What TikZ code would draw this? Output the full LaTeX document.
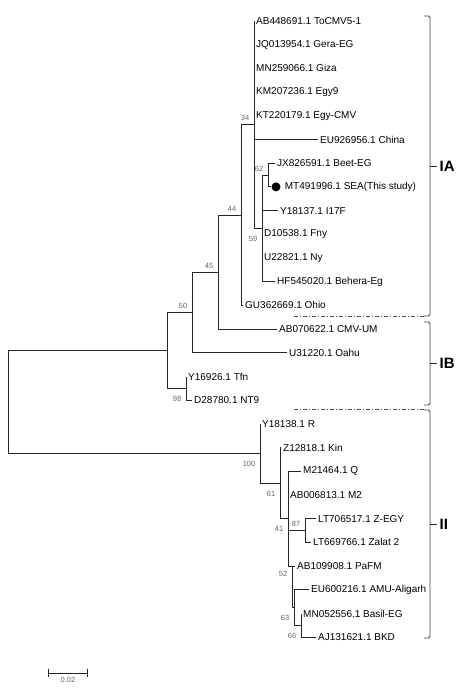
\documentclass[tikz,border=0pt]{standalone}
\usepackage{fontspec}
\setmainfont{Liberation Sans}
\usepackage{tikz}
\usetikzlibrary{positioning}
\tikzset{
  br/.style={draw=black!85, line width=0.9pt},
  leaf/.style={anchor=west, inner sep=2pt, font=\fontsize{10}{12}\selectfont},
  boot/.style={inner sep=1pt, text=black!60, font=\fontsize{7.5}{9}\selectfont, xshift=-3.5pt},
  bootup/.style={boot, anchor=south east, yshift=2.5pt},
  bootdn/.style={boot, anchor=north east, yshift=-6.5pt},
  clade/.style={anchor=west, inner sep=2.5pt, font=\fontsize{15}{17}\selectfont\bfseries},
  brk/.style={draw=black!75, line width=0.9pt, rounded corners=1.5pt},
  sepline/.style={draw=black!70, line width=0.8pt, dash pattern=on 4pt off 2pt on 1pt off 2pt},
  dotv/.style={circle, fill, inner sep=0pt, minimum size=9pt},
  every picture/.style={line cap=butt, line join=miter}
}

\begin{document}
\begin{tikzpicture}[x=1pt,y=-1pt]
  \useasboundingbox (0,0) rectangle (474,695);
  % internal nodes
  \coordinate (root) at (8,402.0);
  \coordinate (nA) at (167,350.4);
  \coordinate (n50) at (192,312.4);
  \coordinate (n45) at (218,272.1);
  \coordinate (n44) at (241,215.1);
  \coordinate (n34) at (254,124.7);
  \coordinate (n59) at (262,228.4);
  \coordinate (n62) at (268,175.1);
  \coordinate (n98) at (186,388.4);
  \coordinate (n100) at (260,453.5);
  \coordinate (n61) at (280,483.2);
  \coordinate (n41) at (288,518.7);
  \coordinate (n87) at (305,530.6);
  \coordinate (n52) at (292,566.1);
  \coordinate (n63) at (294,607.6);
  \coordinate (n66) at (301,625.4);

  % taxa
  \node[leaf] (tocmv) at (254,21.0) {AB448691.1 ToCMV5-1};
  \node[leaf] (gera) at (254,44.7) {JQ013954.1 Gera-EG};
  \node[leaf] (giza) at (254,68.4) {MN259066.1 Giza};
  \node[leaf] (egynine) at (254,92.1) {KM207236.1 Egy9};
  \node[leaf] (egycmv) at (254,115.8) {KT220179.1 Egy-CMV};
  \node[leaf] (china) at (318,139.5) {EU926956.1 China};
  \node[leaf] (beet) at (275,163.2) {JX826591.1 Beet-EG};
  \node[dotv] (seadot) at (276,186.9) {};
  \node[leaf, right=2pt of seadot] (sea) {MT491996.1 SEA(This study)};
  \node[leaf] (ifs) at (278,210.6) {Y18137.1 I17F};
  \node[leaf] (fny) at (262,234.3) {D10538.1 Fny};
  \node[leaf] (ny) at (262,258.0) {U22821.1 Ny};
  \node[leaf] (behera) at (275,281.7) {HF545020.1 Behera-Eg};
  \node[leaf] (ohio) at (243,305.4) {GU362669.1 Ohio};
  \node[leaf] (cmvum) at (277,329.1) {AB070622.1 CMV-UM};
  \node[leaf] (oahu) at (287,352.8) {U31220.1 Oahu};
  \node[leaf] (tfn) at (186,376.5) {Y16926.1 Tfn};
  \node[leaf] (nt9) at (192,400.2) {D28780.1 NT9};
  \node[leaf] (r) at (260,423.9) {Y18138.1 R};
  \node[leaf] (kin) at (281,447.6) {Z12818.1 Kin};
  \node[leaf] (q) at (301,471.3) {M21464.1 Q};
  \node[leaf] (m2) at (288,495.0) {AB006813.1 M2};
  \node[leaf] (zegy) at (316,518.7) {LT706517.1 Z-EGY};
  \node[leaf] (zalat) at (311,542.4) {LT669766.1 Zalat 2};
  \node[leaf] (pafm) at (295,566.1) {AB109908.1 PaFM};
  \node[leaf] (amu) at (309,589.8) {EU600216.1 AMU-Aligarh};
  \node[leaf] (basil) at (301,613.5) {MN052556.1 Basil-EG};
  \node[leaf] (bkd) at (316,637.2) {AJ131621.1 BKD};

  % branches
  \draw[br] (root) |- (nA) (root) |- (n100);
  \draw[br] (nA) |- (n50) (nA) |- (n98);
  \draw[br] (n50) |- (n45) (n50) |- (oahu.west);
  \draw[br] (n45) |- (n44) (n45) |- (cmvum.west);
  \draw[br] (n44) |- (n34) (n44) |- (ohio.west);
  \draw[br] (n34) |- (tocmv.west) (n34) |- (china.west) (n34) |- (n59);
  \draw[br] (n59) |- (n62) (n59) |- (ifs.west) (n59) |- (behera.west);
  \draw[br] (n62) |- (beet.west) (n62) |- (seadot.west);
  \draw[br] (n98) |- (tfn.west) (n98) |- (nt9.west);
  \draw[br] (n100) |- (r.west) (n100) |- (n61);
  \draw[br] (n61) |- (kin.west) (n61) |- (n41);
  \draw[br] (n41) |- (q.west) (n41) |- (n87) (n41) |- (n52);
  \draw[br] (n87) |- (zegy.west) (n87) |- (zalat.west);
  \draw[br] (n52) -- (pafm.west) (n52) |- (n63);
  \draw[br] (n63) |- (amu.west) (n63) |- (n66);
  \draw[br] (n66) |- (basil.west) (n66) |- (bkd.west);

  % bootstrap values
  \node[bootup] (b34) at (n34) {34};
  \node[bootup] (b62) at (n62) {62};
  \node[bootdn] (b59) at (n59) {59};
  \node[bootup] (b44) at (n44) {44};
  \node[bootup] (b45) at (n45) {45};
  \node[bootup] (b50) at (n50) {50};
  \node[bootdn] (b98) at (n98) {98};
  \node[bootdn] (b100) at (n100) {100};
  \node[bootdn] (b61) at (n61) {61};
  \node[bootdn] (b41) at (n41) {41};
  \node[bootup] (b87) at (n87) {87};
  \node[bootdn, yshift=3pt] (b52) at (n52) {52};
  \node[bootdn] (b63) at (n63) {63};
  \node[bootdn] (b66) at (n66) {66};

  % clusters
  \draw[sepline] (294,316) -- (424,316);
  \draw[sepline] (294,409) -- (424,409);
  \node[clade] (ia) at (437,166) {IA};
  \node[clade] (ib) at (437,363.5) {IB};
  \node[clade] (ii) at (437,524) {II};
  \draw[brk] (424,16) -- (430,16) -- (430,316) -- (424,316);
  \draw[brk] (424,322) -- (430,322) -- (430,405) -- (424,405);
  \draw[brk] (424,410) -- (430,410) -- (430,638) -- (424,638);
  \draw[br] (430,166) -- (ia.west);
  \draw[br] (430,363.5) -- (ib.west);
  \draw[br] (430,524) -- (ii.west);

  % scale bar
  \coordinate (sbl) at (48,673);
  \coordinate (sbr) at (88,673);
  \coordinate (sbm) at (68,673);
  \draw[br, |-|] (sbl) -- (sbr);
  \node[boot, xshift=3.5pt, below=3pt of sbm] (sblab) {0.02};
\end{tikzpicture}
\end{document}
